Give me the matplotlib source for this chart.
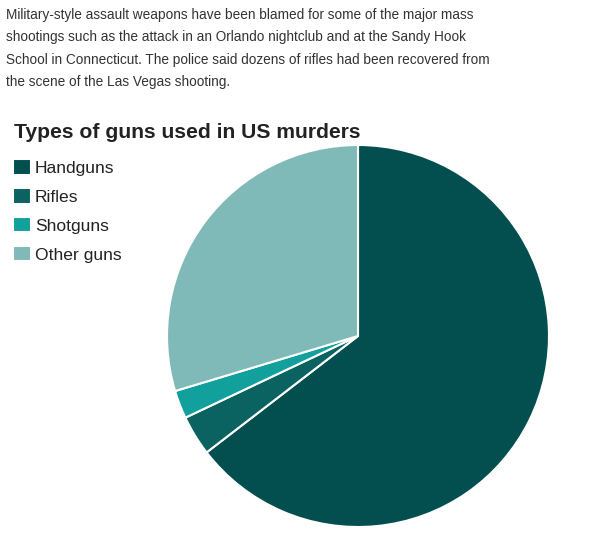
import matplotlib.pyplot as plt

plt.rcParams['font.family'] = ['Liberation Sans', 'DejaVu Sans']

labels = ["Handguns", "Rifles", "Shotguns", "Other guns"]
counts = [7105, 374, 262, 3263]
colors = ["#034e4e", "#0a6361", "#12a09c", "#7fbab8"]

intro = ("Military-style assault weapons have been blamed for some of the major mass\n"
         "shootings such as the attack in an Orlando nightclub and at the Sandy Hook\n"
         "School in Connecticut. The police said dozens of rifles had been recovered from\n"
         "the scene of the Las Vegas shooting.")

fig = plt.figure(figsize=(6.15, 5.37), dpi=100)
fig.text(6 / 615, 1 - 8 / 537, intro, ha="left", va="top", fontsize=9.8,
         color="#333333", linespacing=1.76)
fig.text(14 / 615, 1 - 132 / 537, "Types of guns used in US murders", ha="left",
         va="center", fontsize=15.2, fontweight="bold", color="#222222")

ax = fig.add_axes([167 / 615, 10 / 537, 382 / 615, 382 / 537])
wedges, _ = ax.pie(counts, colors=colors, startangle=90, counterclock=False,
                   wedgeprops=dict(edgecolor="white", linewidth=1.5))
ax.set_xlim(-1, 1)
ax.set_ylim(-1, 1)
ax.set_aspect("equal")

fig.legend(wedges, labels, loc="upper left", bbox_to_anchor=(6 / 615, 1 - 152 / 537),
           frameon=False, fontsize=12.6, handlelength=1.0, handleheight=1.0,
           handletextpad=0.25, labelspacing=0.69, borderaxespad=0,
           labelcolor="#222222")

fig.savefig("out.png", dpi=100)
